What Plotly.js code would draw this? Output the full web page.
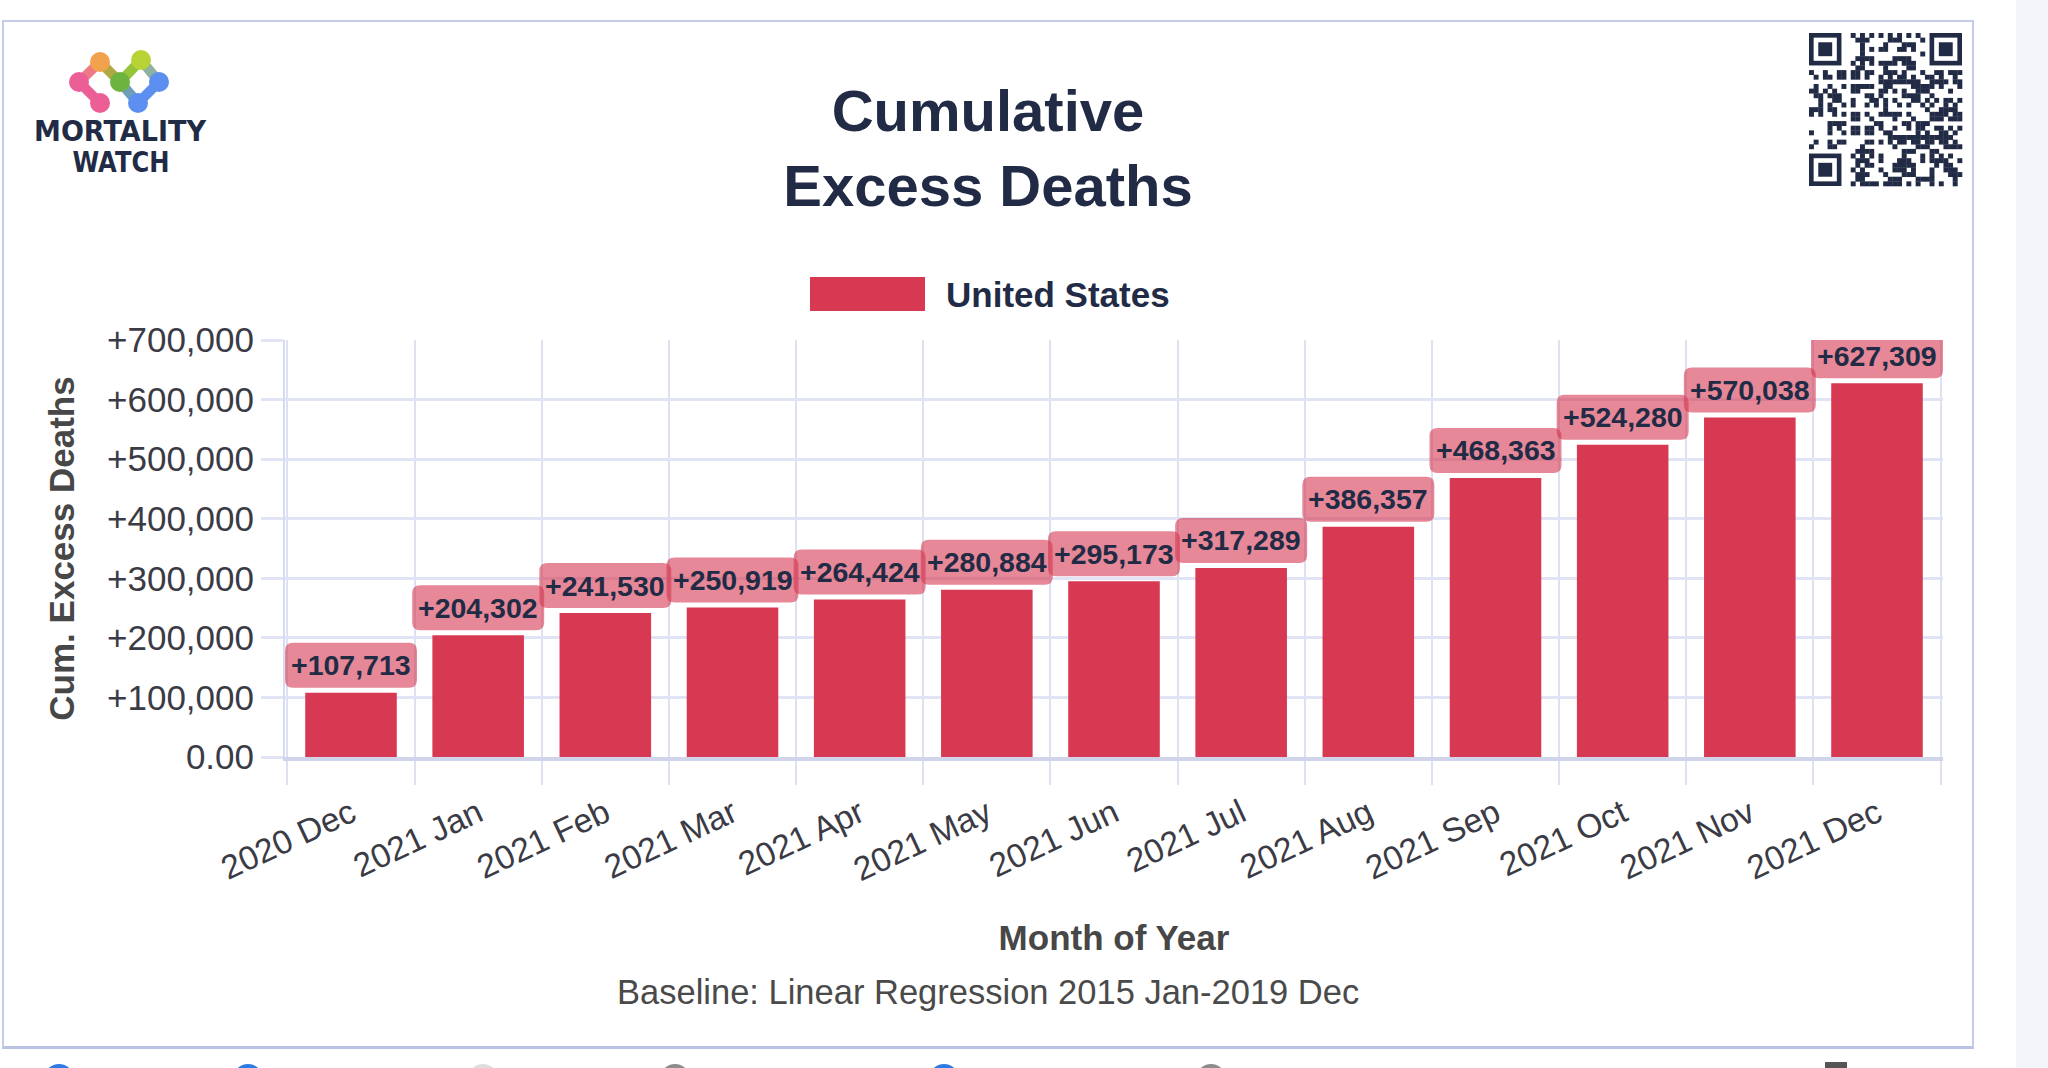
<!DOCTYPE html>
<html>
<head>
<meta charset="utf-8">
<script src="https://cdn.plot.ly/plotly-3.0.1.min.js"></script>
<style>
  html, body { margin: 0; padding: 0; background: #ffffff; }
  #wrap { position: relative; width: 2048px; height: 1068px; overflow: hidden; background: #ffffff; }
  #strip { position: absolute; left: 2016px; top: 0; width: 32px; height: 1068px; background: #f4f5f9; }
  #frame { position: absolute; left: 2px; top: 20px; width: 1972px; height: 1029px; box-sizing: border-box;
           border: 2px solid #c3cbe9; border-bottom: 3px solid #b9c2e3; }
  #deco { position: absolute; left: 0; top: 0; }
  #chart { position: absolute; left: 0; top: 0; width: 2048px; height: 1068px; }
</style>
</head>
<body>
<div id="wrap">
  <div id="strip"></div>
  <div id="frame"></div>
  <svg id="deco" width="2048" height="1068" xmlns="http://www.w3.org/2000/svg"></svg>
  <div id="chart"></div>
</div>
<script>
// ---------- data ----------
const months = ['2020 Dec','2021 Jan','2021 Feb','2021 Mar','2021 Apr','2021 May','2021 Jun',
                '2021 Jul','2021 Aug','2021 Sep','2021 Oct','2021 Nov','2021 Dec'];
const cumExcessDeaths = [107713, 204302, 241530, 250919, 264424, 280884, 295173,
                         317289, 386357, 468363, 524280, 570038, 627309];
const yTickVals = [0, 100000, 200000, 300000, 400000, 500000, 600000, 700000];
const yTickText = ['0.00', '+100,000', '+200,000', '+300,000', '+400,000', '+500,000', '+600,000', '+700,000'];
const seriesName = 'United States';
const chartTitle = 'Cumulative<br>Excess Deaths';
const xTitle = 'Month of Year';
const yTitle = 'Cum. Excess Deaths';
const footnote = 'Baseline: Linear Regression 2015 Jan-2019 Dec';

// ---------- decorations (logo, QR, page chrome) ----------
(function () {
  const NS = 'http://www.w3.org/2000/svg';
  const svg = document.getElementById('deco');
  function el(tag, attrs, text) {
    const e = document.createElementNS(NS, tag);
    for (const k in attrs) e.setAttribute(k, attrs[k]);
    if (text) e.textContent = text;
    svg.appendChild(e);
    return e;
  }
  const nodes = {
    o: [100, 62, '#f2a24c'], l: [141, 60, '#b8d336'], p: [79, 82, '#ec5f96'],
    p2: [100, 103, '#ec5f96'], g: [120, 82, '#6cb33f'], b: [159, 82, '#5d8ff1'], b2: [138, 103, '#5d8ff1']
  };
  const links = [['o','p','#ee7a86'],['o','g','#b0a845'],['l','g','#94c53a'],['l','b','#8fb2a0'],
                 ['p','p2','#ec5f96'],['g','b2','#6f9fb8'],['b','b2','#5d8ff1']];
  links.forEach(([a, b, c]) => el('line', {x1: nodes[a][0], y1: nodes[a][1], x2: nodes[b][0], y2: nodes[b][1],
    stroke: c, 'stroke-width': 10, 'stroke-linecap': 'round'}));
  Object.values(nodes).forEach(([x, y, c]) => el('circle', {cx: x, cy: y, r: 10, fill: c}));
  el('text', {x: 120, y: 141, 'text-anchor': 'middle', 'font-family': 'DejaVu Sans', 'font-weight': 'bold',
    'font-size': 29, fill: '#222b45', textLength: 172, lengthAdjust: 'spacingAndGlyphs'}, 'MORTALITY');
  el('text', {x: 121, y: 172, 'text-anchor': 'middle', 'font-family': 'DejaVu Sans', 'font-weight': 'bold',
    'font-size': 29, fill: '#222b45', textLength: 97, lengthAdjust: 'spacingAndGlyphs'}, 'WATCH');

  const N = 33, x0 = 1809, y0 = 33, m = 153 / N;
  function finder(ci, cj) {
    el('rect', {x: x0 + ci * m, y: y0 + cj * m, width: 7 * m, height: 7 * m, fill: '#222b45'});
    el('rect', {x: x0 + (ci + 1) * m, y: y0 + (cj + 1) * m, width: 5 * m, height: 5 * m, fill: '#ffffff'});
    el('rect', {x: x0 + (ci + 2) * m, y: y0 + (cj + 2) * m, width: 3 * m, height: 3 * m, fill: '#222b45'});
  }
  for (let i = 0; i < N; i++) {
    for (let j = 0; j < N; j++) {
      const inF = (i < 8 && j < 8) || (i > N - 9 && j < 8) || (i < 8 && j > N - 9);
      if (inF) continue;
      const v = (i * 37 + j * 11 + ((i * j) % 13) + ((i ^ j) % 5)) % 7;
      if (v < 3) el('rect', {x: x0 + i * m, y: y0 + j * m, width: m + 0.3, height: m + 0.3, fill: '#222b45'});
    }
  }
  finder(0, 0); finder(N - 7, 0); finder(0, N - 7);

  [[59,'#2f7be6'],[248,'#2f7be6'],[483,'#dedede'],[675,'#8c8c8c'],[944,'#2f7be6'],[1211,'#8c8c8c']]
    .forEach(([x, c]) => el('circle', {cx: x, cy: 1079, r: 15, fill: c}));
  el('rect', {x: 1825, y: 1062, width: 22, height: 10, fill: '#555'});
})();

// ---------- chart ----------
const PL = 285, PR = 1943, PT = 340, PB = 757;
const pw = PR - PL, ph = PB - PT;
const px = (x) => (x - PL) / pw;
const py = (y) => (PB - y) / ph;

const barColor = '#d73852';
const trace = {
  type: 'bar',
  x: months,
  y: cumExcessDeaths,
  name: seriesName,
  marker: {color: barColor},
  hoverinfo: 'skip'
};

// rounded label boxes (pixel-sized, anchored on each bar top)
const BW = 132, BH = 45, GAP = 5, R = 8;
function roundedRect(w, h, g, r) {
  const l = -w / 2, rt = w / 2, b = g, t = g + h;
  return `M${l + r},${b} L${rt - r},${b} Q${rt},${b} ${rt},${b + r} L${rt},${t - r} Q${rt},${t} ${rt - r},${t} ` +
         `L${l + r},${t} Q${l},${t} ${l},${t - r} L${l},${b + r} Q${l},${b} ${l + r},${b} Z`;
}
const labelBoxes = months.map((m, i) => ({
  type: 'path', layer: 'above',
  xref: 'x', yref: 'y', xsizemode: 'pixel', ysizemode: 'pixel',
  xanchor: i, yanchor: cumExcessDeaths[i],
  path: roundedRect(BW, BH, GAP, R),
  fillcolor: 'rgba(214,56,82,0.6)', line: {width: 0}
}));

const valueLabels = months.map((m, i) => ({
  x: m, y: cumExcessDeaths[i], xref: 'x', yref: 'y',
  text: '<b>+' + cumExcessDeaths[i].toLocaleString('en-US') + '</b>',
  showarrow: false, yanchor: 'middle', yshift: GAP + BH / 2,
  font: {size: 28.5, color: '#222b45'}
}));

const layout = {
  width: 2048, height: 1068,
  margin: {l: PL, r: 2048 - PR, t: PT, b: 1068 - PB, pad: 0},
  paper_bgcolor: 'rgba(0,0,0,0)',
  plot_bgcolor: 'rgba(0,0,0,0)',
  font: {family: 'Liberation Sans, Arial, Helvetica, sans-serif', color: '#3b3b45'},
  showlegend: false,
  bargap: 0.28,
  title: {
    text: '<b>' + chartTitle + '</b>',
    font: {size: 58, color: '#222b45'},
    xref: 'container', x: 988 / 2048, xanchor: 'center',
    yref: 'container', y: 1 - 131 / 1068, yanchor: 'top'
  },
  xaxis: {
    type: 'category',
    tickson: 'boundaries',
    showgrid: true, gridcolor: '#dde1f2', gridwidth: 2,
    ticks: 'outside', ticklen: 24, tickcolor: '#dde1f2', tickwidth: 2,
    ticklabelstandoff: 20,
    showline: true, linecolor: '#d0d5ec', linewidth: 4,
    tickangle: -25,
    tickfont: {size: 33.5, color: '#3b3b45'},
    title: {text: '<b>' + xTitle + '</b>', font: {size: 35, color: '#474747'}, standoff: 39},
    fixedrange: true
  },
  yaxis: {
    range: [0, 700000],
    tickvals: yTickVals, ticktext: yTickText,
    showgrid: true, gridcolor: '#e1e4f4', gridwidth: 3,
    zeroline: false,
    ticks: 'outside', ticklen: 22, tickcolor: '#e1e4f4', tickwidth: 3,
    ticklabelstandoff: 0,
    showline: true, linecolor: '#d6dbef', linewidth: 2,
    tickfont: {size: 35, color: '#3b3b45'},
    title: {text: '<b>' + yTitle + '</b>', font: {size: 35, color: '#474747'}, standoff: 22},
    fixedrange: true
  },
  shapes: [
    {type: 'rect', xref: 'paper', yref: 'paper', x0: px(810), x1: px(925), y0: py(311), y1: py(277),
     fillcolor: barColor, line: {width: 0}}
  ].concat(labelBoxes),
  annotations: valueLabels.concat([
    {xref: 'paper', yref: 'paper', x: px(944), y: py(294), xanchor: 'left', yanchor: 'middle',
     text: '<b>' + seriesName + '</b>', showarrow: false, font: {size: 35, color: '#222b45'}},
    {xref: 'paper', yref: 'paper', x: px(988), y: py(992), xanchor: 'center', yanchor: 'middle',
     text: footnote, showarrow: false, font: {size: 34.5, color: '#4a4a4a'}}
  ])
};

Plotly.newPlot('chart', [trace], layout, {staticPlot: true, displayModeBar: false});
</script>
</body>
</html>
